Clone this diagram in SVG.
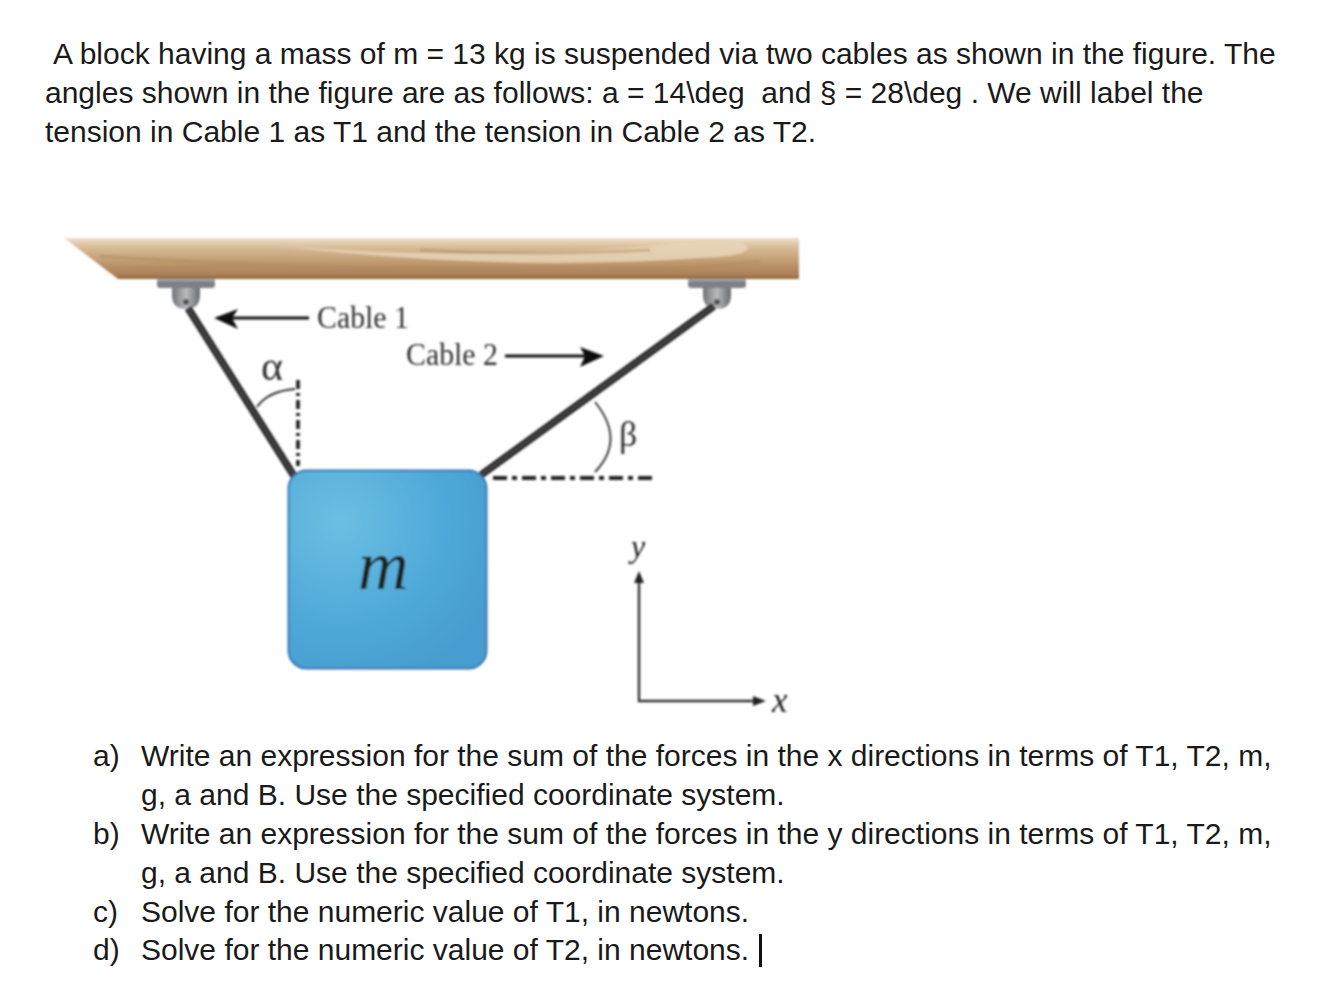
<svg xmlns="http://www.w3.org/2000/svg" width="1328" height="997" viewBox="0 0 1328 997">
<style>
.t{font-family:"Liberation Sans",Arial,sans-serif;font-size:30px;fill:#1a1a1a;white-space:pre}
.s{font-family:"Liberation Serif","Times New Roman",serif;fill:#333}
.i{font-family:"Liberation Serif","Times New Roman",serif;font-style:italic;fill:#222}
.cable{stroke:#2c2c2c;stroke-width:7.500;fill:none}
.core{stroke:#4a4a4a;stroke-width:2;fill:none}
.dash{stroke:#222;stroke-width:3.800;fill:none}
.arc{stroke:#333;stroke-width:1.800;fill:none}
.lead{stroke:#111;stroke-width:3.200;fill:none}
.axis{stroke:#333;stroke-width:2.400;fill:none}
</style>
<defs>
<filter id="soft" x="-5%" y="-5%" width="110%" height="110%"><feGaussianBlur stdDeviation="0.8"/></filter>
<radialGradient id="blk" gradientUnits="userSpaceOnUse" cx="340" cy="522" r="170">
<stop offset="0" stop-color="#6bbfe3"/><stop offset="0.6" stop-color="#4fa9d8"/><stop offset="1" stop-color="#479dcf"/>
</radialGradient>
<linearGradient id="wood" x1="0" y1="0" x2="0" y2="1">
<stop offset="0" stop-color="#efe0ca"/><stop offset="0.22" stop-color="#d8bd98"/><stop offset="0.65" stop-color="#bc9469"/><stop offset="0.93" stop-color="#a67d56"/><stop offset="1" stop-color="#9c6b3c"/>
</linearGradient>
<linearGradient id="metal" x1="0" y1="0" x2="1" y2="0">
<stop offset="0" stop-color="#6f7276"/><stop offset="0.5" stop-color="#b9bbbe"/><stop offset="1" stop-color="#66696d"/>
</linearGradient>
<g id="mount">
<rect x="-29" y="0" width="58" height="4" fill="#a5a7aa"/>
<rect x="-29" y="2" width="58" height="7" rx="3" fill="#7d8084"/>
<path d="M-14 9H14V16Q14 30 0 30Q-14 30-14 16Z" fill="url(#metal)"/>
<circle cx="0" cy="23" r="3" fill="#4f5256"/>
</g>
</defs>

<g id="question">
<text class="t" x="53" y="64">A block having a mass of m = 13 kg is suspended via two cables as shown in the figure. The</text>
<text class="t" x="45" y="103" xml:space="preserve">angles shown in the figure are as follows: a = 14\deg  and § = 28\deg . We will label the</text>
<text class="t" x="45" y="142">tension in Cable 1 as T1 and the tension in Cable 2 as T2.</text>
</g>

<g id="figure" filter="url(#soft)">
<g id="ceiling">
<path d="M64 238H799V279H118Z" fill="url(#wood)"/>
<path d="M280 246Q480 262 672 244Q742 238 748 247Q750 256 700 258Q500 272 280 246Z" fill="#e8d7bc" opacity="0.8"/>
<path d="M100 256Q300 270 560 268M130 268Q260 262 420 272M420 250Q520 256 650 250" stroke="#b08a62" stroke-width="3" fill="none" opacity="0.5"/>
<path d="M560 268Q650 272 760 262" stroke="#b08a62" stroke-width="4" fill="none" opacity="0.5"/>
<rect x="118" y="276.500" width="681" height="2.500" fill="#9c6b3c"/>
</g>

<g id="mount-left"><use href="#mount" transform="translate(186,279)"/></g>
<g id="mount-right"><use href="#mount" transform="translate(717,279)"/></g>

<g id="connectors">
<path class="cable" d="M188 308L294 476"/>
<path class="core" d="M188 308L294 476"/>
<path class="cable" d="M714 306L481 475"/>
<path class="core" d="M714 306L481 475"/>
<path class="dash" d="M298 380V466" stroke-dasharray="9 4 3 4"/>
<path class="dash" d="M493 478H652" stroke-dasharray="14 5 5 5"/>
<path class="arc" d="M257 407Q268 391 295 389"/>
<path class="arc" d="M595 402Q626 440 595 472"/>
<path class="lead" d="M226 318H309"/>
<path d="M214 318L238 309L232 318L238 329Z" fill="#111"/>
<path class="lead" d="M505 356H590"/>
<path d="M604 356L580 347L585 356L580 367Z" fill="#111"/>
<path class="axis" d="M639 575V701H755"/>
<path d="M639 571L634 583H644Z" fill="#222"/>
<path d="M766 701L753 696V706Z" fill="#222"/>
</g>

<g id="block">
<rect x="288.500" y="470.500" width="198" height="198" rx="18" fill="url(#blk)" stroke="#3a77b8" stroke-width="2"/>
<text class="i" x="358" y="589" font-size="70" fill="#111">m</text>
</g>

<g id="labels">
<text class="s" x="317" y="328" font-size="31" textLength="92" lengthAdjust="spacingAndGlyphs">Cable 1</text>
<text class="s" x="406" y="365" font-size="31" textLength="92" lengthAdjust="spacingAndGlyphs">Cable 2</text>
<text class="s" x="261" y="380" font-size="42">α</text>
<text class="s" x="619" y="446" font-size="36">β</text>
<text class="i" x="631" y="557" font-size="32">y</text>
<text class="i" x="772" y="712" font-size="35">x</text>
</g>
</g>

<g id="parts">
<text class="t" x="93" y="766">a)</text>
<text class="t" x="141" y="766">Write an expression for the sum of the forces in the x directions in terms of T1, T2, m,</text>
<text class="t" x="141" y="805">g, a and B. Use the specified coordinate system.</text>
<text class="t" x="93" y="844">b)</text>
<text class="t" x="141" y="844">Write an expression for the sum of the forces in the y directions in terms of T1, T2, m,</text>
<text class="t" x="141" y="883">g, a and B. Use the specified coordinate system.</text>
<text class="t" x="93" y="922">c)</text>
<text class="t" x="141" y="922">Solve for the numeric value of T1, in newtons.</text>
<text class="t" x="93" y="960">d)</text>
<text class="t" x="141" y="960">Solve for the numeric value of T2, in newtons.</text>
<rect x="759" y="934" width="3" height="33" fill="#111"/>
</g>
</svg>
